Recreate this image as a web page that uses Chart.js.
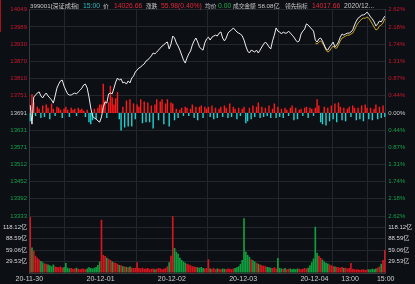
<!DOCTYPE html>
<html><head><meta charset="utf-8">
<script src="https://cdn.jsdelivr.net/npm/chart.js@4.4.1/dist/chart.umd.min.js"></script>
<style>
html,body{margin:0;padding:0;background:#0c0f14;width:415px;height:284px;overflow:hidden;}
#wrap{position:relative;width:415px;height:284px;}
#cA{position:absolute;left:0;top:0;width:415px;height:222px;}
#cB{position:absolute;left:0;top:214px;width:415px;height:70px;}
#hdr span{position:absolute;top:0;line-height:12px;font-family:"Liberation Sans","Noto Sans CJK SC",sans-serif;font-size:6.8px;white-space:nowrap;color:#c8c8c8;}
#hdr span.c{font-size:5.7px;}
#hdr span.m{font-size:6.2px;}
#mark{position:absolute;left:0;top:0;width:1px;height:32px;background:#a8101e;}
</style></head><body>
<div id="wrap">
<canvas id="cA" width="415" height="222"></canvas>
<canvas id="cB" width="415" height="70"></canvas>
<div id="mark"></div>
<div id="hdr">
<span class="m" style="left:30px">399001[深证成指]</span>
<span style="left:83px;color:#2fb8b8">15:00</span>
<span class="c" style="left:103px">价</span>
<span style="left:114px;color:#e0283a">14026.66</span>
<span class="c" style="left:146px">涨跌</span>
<span style="left:161px;color:#e0283a">55.98(0.40%)</span>
<span class="c" style="left:205px">均价</span>
<span style="left:218px;color:#1fae4e">0.00</span>
<span class="c" style="left:233px">成交金额</span>
<span class="m" style="left:258px">58.08亿</span>
<span class="c" style="left:285px">领先指标</span>
<span style="left:312px;color:#e0283a">14017.66</span>
<span style="left:344px">2020/12...</span>
</div>
</div>
<script>
// ---- data ----
const dayLabels = ['20-11-30','20-12-01','20-12-02','20-12-03','20-12-04','13:00','15:00'];
const priceTicks = ['13333','13392','13452','13512','13571','13631','13691','13751','13810','13870','13930','13989','14049'];
const pctTicks = ['2.62%','2.18%','1.74%','1.31%','0.87%','0.44%','0.00%','0.44%','0.87%','1.31%','1.74%','2.18%','2.62%'];
const volTicks = ['29.53亿','59.06亿','88.59亿','118.12亿'];
const volMax = 147.65;
const prevClose = 13691;

const price = [
13718,13652,13746,13753,13760,13764,13750,13743,13753,13760,13750,13743,13736,13725,13750,13777,13791,13802,13805,13784,13770,13757,13753,13753,13757,13760,13757,13764,13770,13777,13788,13791,13777,13746,13708,13680,13673,13670,13663,13659,
13677,13711,13729,13725,13757,13760,13757,13777,13798,13812,13805,13809,13795,13798,13791,13802,13795,13812,13819,13833,13840,13847,13850,13857,13861,13871,13875,13882,13889,13899,13896,13902,13909,13916,13923,13927,13934,13937,13913,13930,
13958,13951,13934,13923,13909,13892,13875,13864,13882,13896,13906,13927,13941,13951,13937,13920,13913,13909,13934,13948,13954,13944,13954,13958,13961,13958,13968,13972,13951,13941,13951,13968,13975,13979,13986,13979,13972,13968,13965,13958,
13944,13923,13906,13899,13909,13906,13902,13909,13899,13909,13920,13930,13937,13930,13920,13913,13941,13961,13986,13975,13972,13965,13972,13968,13968,13975,13968,13961,13954,13944,13937,13941,13965,13975,13982,14000,13996,13989,13982,13975,
13944,13937,13948,13951,13941,13927,13913,13909,13920,13927,13937,13920,13927,13937,13954,13965,13961,13965,13968,13968,13972,13979,13996,14010,14020,14024,14031,14031,14034,14041,14034,14024,14017,14007,13993,14000,14010,14007,14017,14027];

const leadDay5 = [13934,13930,13937,13941,13934,13923,13909,13902,13906,13916,13923,13916,13916,13927,13941,13951,13954,13958,13961,13961,13965,13968,13979,13993,14003,14010,14017,14020,14020,14024,14020,14010,14000,13989,13979,13982,13993,13996,14003,14018];

const indicator = [
-8,18,10,-3,6,4,-5,7,-4,8,5,-6,9,4,-3,6,5,3,-5,4,6,3,-4,5,3,4,-3,5,3,4,2,-4,3,-9,-11,-7,4,-6,5,8,
8,28,12,-5,10,26,15,8,14,20,-6,-17,6,-14,12,-13,13,-13,9,-6,8,6,13,-10,11,-9,10,-9,7,-15,8,13,-7,11,13,-11,9,13,-13,10,
9,-7,4,-5,3,5,-3,6,5,-3,4,8,-5,6,-7,6,7,-5,6,4,6,-4,7,-6,5,-5,4,6,-4,7,5,-5,9,-4,6,4,-6,5,-3,4,
6,-10,-8,5,-6,7,-4,6,10,-5,6,-4,5,-3,7,-5,4,9,-5,6,-4,4,-5,5,3,-3,5,7,-7,5,-6,3,4,-3,5,6,-5,5,4,-3,
5,13,7,-9,-11,6,-12,5,-8,7,-6,9,-9,10,6,-7,5,-8,4,6,-4,7,5,-7,5,-6,7,-8,8,5,-6,5,-7,4,8,-6,6,-5,7,-4];

const volume = [
145,66,58,45,40,35,31,28,25,24,22,20,18,22,17,16,15,17,14,16,26,14,12,13,11,12,14,11,10,12,11,10,12,15,13,12,14,16,21,30,
138,47,44,40,37,34,30,28,26,24,21,20,18,17,16,15,17,14,13,14,28,13,12,14,11,12,13,10,11,12,10,11,13,12,10,11,13,18,28,45,
147,65,55,50,40,34,30,27,24,22,20,18,17,16,15,14,16,13,12,13,36,12,11,13,10,12,11,10,12,11,10,12,11,10,12,13,15,18,24,34,
142,55,47,42,36,33,30,27,24,22,20,19,18,16,15,14,13,15,12,39,13,12,11,13,10,11,12,10,11,10,12,11,10,11,13,12,14,20,28,38,
120,52,45,39,35,30,27,25,22,20,18,17,16,15,14,16,13,14,12,13,26,11,10,9,10,8,9,10,8,9,10,9,11,10,12,14,17,24,34,60];

// ---- build ----
const PER_DAY = 40, N = price.length;
const dayTicks = [0, PER_DAY, 2*PER_DAY, 3*PER_DAY, 4*PER_DAY, 4.5*PER_DAY, 5*PER_DAY];
const FONT = '"Liberation Sans","Noto Sans CJK SC",sans-serif';
const RED = '#c8192e', GREEN = '#17a04b', GRAY = '#c8c8c8', GRID = '#22262d', AXIS = '#363a42';
const pts = arr => arr.map((v, i) => ({x: i + 0.5, y: v}));
const lead = new Array(N - leadDay5.length).fill(null).concat(leadDay5);
const pMin = Number(priceTicks[0]), pMax = Number(priceTicks[priceTicks.length - 1]);
const volColors = volume.map((v, i) => ((i === 0 ? price[0] >= prevClose : price[i] >= price[i - 1]) ? '#d2161f' : '#129c3e'));
const indColors = indicator.map(v => v >= 0 ? '#ff1a1a' : '#20d0d0');

const fixY = w => s => { s.width = w; s.paddingTop = 0; s.paddingBottom = 0; };
const priceTickBuild = s => { s.ticks = priceTicks.map((t, k) => ({value: pMin + k * (pMax - pMin) / (priceTicks.length - 1)})); };
const tickColor = ctx => ctx.index < 6 ? GREEN : (ctx.index === 6 ? GRAY : RED);

new Chart(document.getElementById('cA'), {
  type: 'line',
  data: { datasets: [
    {type: 'line', data: pts(price), borderColor: '#ededed', borderWidth: 1, pointRadius: 0, yAxisID: 'y', order: 1},
    {type: 'line', data: pts(lead), borderColor: '#c9a227', borderWidth: 1, pointRadius: 0, yAxisID: 'y', order: 2, spanGaps: false},
    {type: 'bar', data: pts(indicator), backgroundColor: indColors, yAxisID: 'yI', order: 3, barPercentage: 0.8, categoryPercentage: 1}
  ]},
  options: {
    responsive: false, animation: false, events: [],
    plugins: {legend: {display: false}, tooltip: {enabled: false}},
    layout: {padding: {top: 9.8, bottom: 6, left: 0, right: 0}},
    scales: {
      x: {type: 'linear', min: 0, max: N, offset: false,
          afterBuildTicks: s => { s.ticks = dayTicks.map(v => ({value: v})); },
          ticks: {display: false}, grid: {color: GRID, drawTicks: false}, border: {display: false},
          afterFit: s => { s.height = 0; s.paddingLeft = 0; s.paddingRight = 0; }},
      y: {position: 'left', min: pMin, max: pMax, afterBuildTicks: priceTickBuild,
          ticks: {autoSkip: false, padding: 2.3, color: tickColor, font: {family: FONT, size: 6}, callback: (v, i) => priceTicks[i]},
          grid: {color: GRID, drawTicks: false}, border: {color: AXIS}, afterFit: fixY(29.3)},
      yR: {position: 'right', min: pMin, max: pMax, afterBuildTicks: priceTickBuild,
          ticks: {autoSkip: false, padding: 2.5, color: tickColor, font: {family: FONT, size: 6}, callback: (v, i) => pctTicks[i]},
          grid: {display: false, drawTicks: false}, border: {color: AXIS}, afterFit: fixY(29.3)},
      yI: {display: false, min: -99, max: 99}
    }
  }
});

const volTickBuild = s => { s.ticks = [0,1,2,3,4,5].map(k => ({value: k * volMax / 5})); };
const volLabel = (v, i) => (i >= 1 && i <= volTicks.length) ? volTicks[i - 1] : '';

new Chart(document.getElementById('cB'), {
  type: 'bar',
  data: { datasets: [
    {data: pts(volume), backgroundColor: volColors, barPercentage: 0.95, categoryPercentage: 1}
  ]},
  options: {
    responsive: false, animation: false, events: [],
    plugins: {legend: {display: false}, tooltip: {enabled: false}},
    layout: {padding: {top: 2, bottom: 0, left: 0, right: 0}},
    scales: {
      x: {type: 'linear', min: 0, max: N, offset: false,
          afterBuildTicks: s => { s.ticks = dayTicks.map(v => ({value: v})); },
          ticks: {autoSkip: false, maxRotation: 0, padding: 1.8, color: '#cfcfcf', font: {family: FONT, size: 7}, callback: (v, i) => dayLabels[i]},
          grid: {color: GRID, drawTicks: false}, border: {color: AXIS},
          afterFit: s => { s.height = 10.9; s.paddingLeft = 0; s.paddingRight = 0; }},
      y: {position: 'left', min: 0, max: volMax, afterBuildTicks: volTickBuild,
          ticks: {autoSkip: false, padding: 2.3, color: '#d6d6d6', font: {family: FONT, size: 6}, callback: volLabel},
          grid: {color: GRID, drawTicks: false}, border: {color: AXIS}, afterFit: fixY(29.3)},
      yR: {position: 'right', min: 0, max: volMax, afterBuildTicks: volTickBuild,
          ticks: {autoSkip: false, padding: 2.5, color: '#d6d6d6', font: {family: FONT, size: 6}, callback: volLabel},
          grid: {display: false, drawTicks: false}, border: {color: AXIS}, afterFit: fixY(29.3)}
    }
  }
});
</script>
</body></html>
